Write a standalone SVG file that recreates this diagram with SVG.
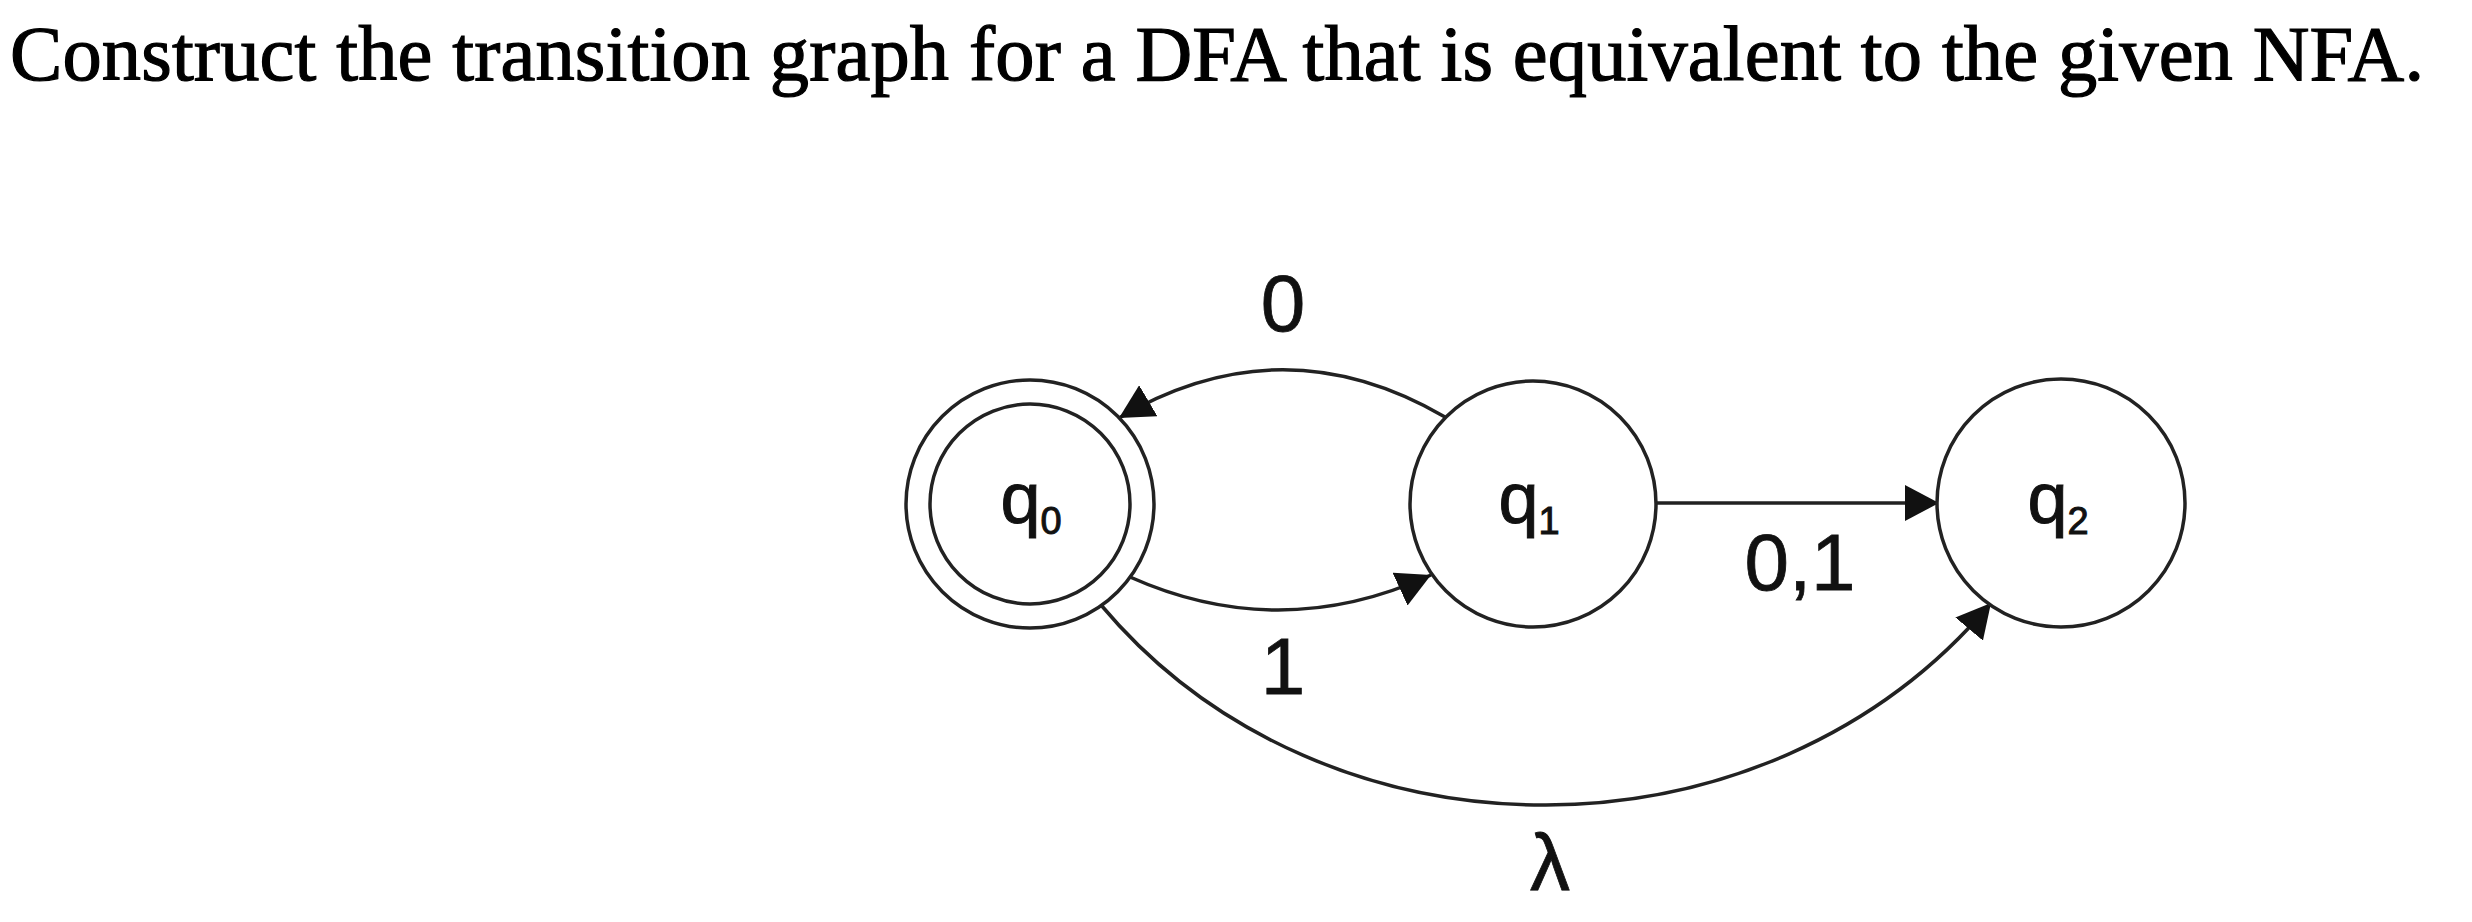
<svg xmlns="http://www.w3.org/2000/svg" width="2472" height="922" viewBox="0 0 2472 922">
<style>
  .state { fill: #ffffff; stroke: #222222; stroke-width: 3.5; }
  .edge { fill: none; stroke: #222222; stroke-width: 3.5; }
  .lbl { font-family: "Liberation Sans", Arial, sans-serif; font-size: 80px; fill: #111111; stroke: #111111; stroke-width: 0.8; text-anchor: middle; }
  .qlbl { font-family: "Liberation Sans", Arial, sans-serif; font-size: 72px; fill: #111111; stroke: #111111; stroke-width: 1; text-anchor: middle; }
  .title { font-family: "Liberation Serif", "Times New Roman", serif; font-size: 78.5px; fill: #000000; stroke: #000000; stroke-width: 1.2; }
</style>
<defs>
  <marker id="arrow" markerUnits="userSpaceOnUse" markerWidth="34" markerHeight="36" viewBox="0 0 34 36" refX="34" refY="18" orient="auto">
    <path d="M0,0 L34,18 L0,36 z" fill="#111111"/>
  </marker>
</defs>
<rect x="0" y="0" width="2472" height="922" fill="#ffffff"/>
<text class="title" x="10" y="80" textLength="2414" lengthAdjust="spacing">Construct the transition graph for a DFA that is equivalent to the given NFA.</text>

<g id="connectors">
  <path id="e-q1-q0" class="edge" d="M1445,417 Q1282,322 1119,418" marker-end="url(#arrow)"/>
  <path id="e-q0-q1" class="edge" d="M1130,577 Q1280,644 1431,575" marker-end="url(#arrow)"/>
  <path id="e-q1-q2" class="edge" d="M1656,503 L1939,503" marker-end="url(#arrow)"/>
  <path id="e-q0-q2" class="edge" d="M1101,605 C1326,873 1766,871 1991,603" marker-end="url(#arrow)"/>
  <text class="lbl" x="1283" y="331">0</text>
  <text class="lbl" x="1283" y="694">1</text>
  <text class="lbl" x="1800" y="590">0,1</text>
  <text class="lbl" x="1550" y="890">λ</text>
</g>

<g id="q0">
  <circle class="state" cx="1030" cy="504" r="124"/>
  <circle class="state" cx="1030" cy="504" r="100"/>
  <text class="qlbl" x="1031" y="523">q<tspan font-size="38" dy="11">0</tspan></text>
</g>
<g id="q1">
  <circle class="state" cx="1533" cy="504" r="123"/>
  <text class="qlbl" x="1529" y="523">q<tspan font-size="38" dy="11">1</tspan></text>
</g>
<g id="q2">
  <circle class="state" cx="2061" cy="503" r="124"/>
  <text class="qlbl" x="2058" y="523">q<tspan font-size="38" dy="11">2</tspan></text>
</g>
</svg>
